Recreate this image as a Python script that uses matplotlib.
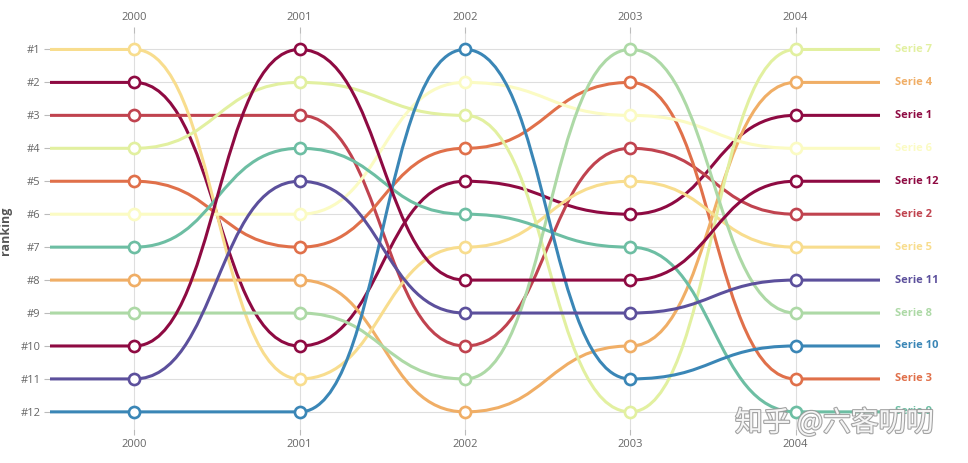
import matplotlib
matplotlib.use("Agg")
import matplotlib.pyplot as plt
import matplotlib.patheffects as pe
from matplotlib.path import Path
from matplotlib.patches import PathPatch

plt.rcParams['font.family'] = ['Open Sans', 'DejaVu Sans']

# --- data -----------------------------------------------------------------
years = [2000, 2001, 2002, 2003, 2004]
series_names = ['Serie 1', 'Serie 2', 'Serie 3', 'Serie 4', 'Serie 5', 'Serie 6',
                'Serie 7', 'Serie 8', 'Serie 9', 'Serie 10', 'Serie 11', 'Serie 12']
ranks = [
    [2, 10, 5, 6, 3],     # Serie 1
    [3, 3, 10, 4, 6],     # Serie 2
    [5, 7, 4, 2, 11],     # Serie 3
    [8, 8, 12, 10, 2],    # Serie 4
    [1, 11, 7, 5, 7],     # Serie 5
    [6, 6, 2, 3, 4],      # Serie 6
    [4, 2, 3, 12, 1],     # Serie 7
    [9, 9, 11, 1, 9],     # Serie 8
    [7, 4, 6, 7, 12],     # Serie 9
    [12, 12, 1, 11, 10],  # Serie 10
    [11, 5, 9, 9, 8],     # Serie 11
    [10, 1, 8, 8, 5],     # Serie 12
]
rank_labels = ['#%d' % i for i in range(1, 13)]

# Spectral (11 colours, slightly muted), cycled
palette = ['#8e0a42', '#c0434f', '#e0704a', '#f0ae66', '#f8dd8e', '#fbfbc3',
           '#e2f0a0', '#add9a6', '#6dbea3', '#3a86b6', '#5c509c']

# --- figure ---------------------------------------------------------------
W, H = 968, 463
fig = plt.figure(figsize=(W / 100, H / 100), dpi=100)
ax = fig.add_axes([50 / W, 1 - 429 / H, 830 / W, 396 / H])

x_lo, x_hi = 1999.49, 2004.51
ax.set_xlim(x_lo, x_hi)
ax.set_ylim(12.52, 0.5)

for s in ax.spines.values():
    s.set_visible(False)

# grid
for r in range(1, 13):
    ax.axhline(r, color='#dedede', lw=0.8, zorder=0)
for yr in years:
    ax.axvline(yr, color='#dedede', lw=0.8, zorder=0)

ax.set_yticks(range(1, 13))
ax.set_yticklabels(rank_labels)
ax.set_xticks(years)
ax.set_xticklabels([str(y) for y in years])
ax.tick_params(axis='x', top=True, labeltop=True, bottom=True, labelbottom=True,
               length=4, color='#bbbbbb', labelcolor='#666666', labelsize=8, pad=3)
ax.tick_params(axis='y', length=4, color='#bbbbbb', labelcolor='#666666',
               labelsize=8, pad=3)
ax.set_ylabel('ranking', fontsize=9, fontweight='bold', color='#555555', labelpad=6)

# bump lines (curveBumpX style)
for i, (name, rk) in enumerate(zip(series_names, ranks)):
    col = palette[i % len(palette)]
    verts = [(x_lo, rk[0]), (years[0], rk[0])]
    codes = [Path.MOVETO, Path.LINETO]
    for j in range(len(years) - 1):
        xm = (years[j] + years[j + 1]) / 2
        verts += [(xm, rk[j]), (xm, rk[j + 1]), (years[j + 1], rk[j + 1])]
        codes += [Path.CURVE4] * 3
    verts.append((x_hi, rk[-1]))
    codes.append(Path.LINETO)
    ax.add_patch(PathPatch(Path(verts, codes), fill=False, edgecolor=col,
                           lw=2.2, capstyle='butt', zorder=2 + i, clip_on=False))
    ax.plot(years, rk, 'o', ms=8, mfc='white', mec=col, mew=1.9,
            zorder=2 + i, clip_on=False)
    ax.annotate(name, xy=(x_hi, rk[-1]), xytext=(11, 0), textcoords='offset points',
                va='center', ha='left', fontsize=8, fontweight='bold', color=col,
                annotation_clip=False)

# watermark
fig.text(735 / W, 1 - 423 / H, '知乎 @六客叨叨', fontsize=20, color='white',
         va='center', ha='left', family=['Noto Sans CJK SC', 'DejaVu Sans'],
         alpha=0.9, zorder=50,
         path_effects=[pe.withStroke(linewidth=1.6, foreground='#9a9a9a')])

fig.savefig('out.png', dpi=100)
